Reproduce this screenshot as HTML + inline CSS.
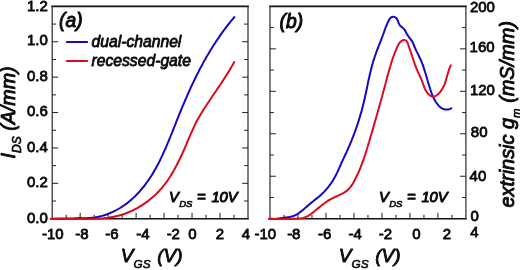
<!DOCTYPE html>
<html><head><meta charset="utf-8"><title>Figure</title>
<style>html,body{margin:0;padding:0;background:#fff}svg{display:block}</style>
</head><body>
<svg width="520" height="270" viewBox="0 0 520 270">
<rect width="520" height="270" fill="#fff"/>
<g stroke="#111" stroke-width="1.6" stroke-linecap="square"><line x1="52.2" y1="6.4" x2="248.0" y2="6.4"/><line x1="52.2" y1="218.7" x2="248.0" y2="218.7"/></g>
<g stroke="#303030" stroke-width="1.25" stroke-linecap="square"><line x1="52.2" y1="6.4" x2="52.2" y2="218.7"/><line x1="248.0" y1="6.4" x2="248.0" y2="218.7"/></g>
<g stroke="#111" stroke-width="1.6" stroke-linecap="square"><line x1="270.0" y1="6.4" x2="465.9" y2="6.4"/><line x1="270.0" y1="218.7" x2="465.9" y2="218.7"/></g>
<g stroke="#303030" stroke-width="1.25" stroke-linecap="square"><line x1="270.0" y1="6.4" x2="270.0" y2="218.7"/><line x1="465.9" y1="6.4" x2="465.9" y2="218.7"/></g>
<g stroke="#222" stroke-width="1.0" fill="none">
<line x1="66.19" y1="218.7" x2="66.19" y2="214.80"/>
<line x1="80.17" y1="218.7" x2="80.17" y2="212.80"/>
<line x1="94.16" y1="218.7" x2="94.16" y2="214.80"/>
<line x1="108.14" y1="218.7" x2="108.14" y2="212.80"/>
<line x1="122.13" y1="218.7" x2="122.13" y2="214.80"/>
<line x1="136.11" y1="218.7" x2="136.11" y2="212.80"/>
<line x1="150.10" y1="218.7" x2="150.10" y2="214.80"/>
<line x1="164.09" y1="218.7" x2="164.09" y2="212.80"/>
<line x1="178.07" y1="218.7" x2="178.07" y2="214.80"/>
<line x1="192.06" y1="218.7" x2="192.06" y2="212.80"/>
<line x1="206.04" y1="218.7" x2="206.04" y2="214.80"/>
<line x1="220.03" y1="218.7" x2="220.03" y2="212.80"/>
<line x1="234.01" y1="218.7" x2="234.01" y2="214.80"/>
<line x1="283.99" y1="218.7" x2="283.99" y2="214.80"/>
<line x1="297.99" y1="218.7" x2="297.99" y2="212.80"/>
<line x1="311.98" y1="218.7" x2="311.98" y2="214.80"/>
<line x1="325.97" y1="218.7" x2="325.97" y2="212.80"/>
<line x1="339.96" y1="218.7" x2="339.96" y2="214.80"/>
<line x1="353.96" y1="218.7" x2="353.96" y2="212.80"/>
<line x1="367.95" y1="218.7" x2="367.95" y2="214.80"/>
<line x1="381.94" y1="218.7" x2="381.94" y2="212.80"/>
<line x1="395.94" y1="218.7" x2="395.94" y2="214.80"/>
<line x1="409.93" y1="218.7" x2="409.93" y2="212.80"/>
<line x1="423.92" y1="218.7" x2="423.92" y2="214.80"/>
<line x1="437.91" y1="218.7" x2="437.91" y2="212.80"/>
<line x1="451.91" y1="218.7" x2="451.91" y2="214.80"/>
<line x1="52.2" y1="201.01" x2="56.10" y2="201.01"/>
<line x1="52.2" y1="183.32" x2="58.10" y2="183.32"/>
<line x1="52.2" y1="165.62" x2="56.10" y2="165.62"/>
<line x1="52.2" y1="147.93" x2="58.10" y2="147.93"/>
<line x1="52.2" y1="130.24" x2="56.10" y2="130.24"/>
<line x1="52.2" y1="112.55" x2="58.10" y2="112.55"/>
<line x1="52.2" y1="94.86" x2="56.10" y2="94.86"/>
<line x1="52.2" y1="77.17" x2="58.10" y2="77.17"/>
<line x1="52.2" y1="59.47" x2="56.10" y2="59.47"/>
<line x1="52.2" y1="41.78" x2="58.10" y2="41.78"/>
<line x1="52.2" y1="24.09" x2="56.10" y2="24.09"/>
<line x1="248.0" y1="201.01" x2="244.10" y2="201.01"/>
<line x1="248.0" y1="183.32" x2="242.10" y2="183.32"/>
<line x1="248.0" y1="165.62" x2="244.10" y2="165.62"/>
<line x1="248.0" y1="147.93" x2="242.10" y2="147.93"/>
<line x1="248.0" y1="130.24" x2="244.10" y2="130.24"/>
<line x1="248.0" y1="112.55" x2="242.10" y2="112.55"/>
<line x1="248.0" y1="94.86" x2="244.10" y2="94.86"/>
<line x1="248.0" y1="77.17" x2="242.10" y2="77.17"/>
<line x1="248.0" y1="59.47" x2="244.10" y2="59.47"/>
<line x1="248.0" y1="41.78" x2="242.10" y2="41.78"/>
<line x1="248.0" y1="24.09" x2="244.10" y2="24.09"/>
<line x1="270.0" y1="197.47" x2="273.90" y2="197.47"/>
<line x1="270.0" y1="176.24" x2="275.90" y2="176.24"/>
<line x1="270.0" y1="155.01" x2="273.90" y2="155.01"/>
<line x1="270.0" y1="133.78" x2="275.90" y2="133.78"/>
<line x1="270.0" y1="112.55" x2="273.90" y2="112.55"/>
<line x1="270.0" y1="91.32" x2="275.90" y2="91.32"/>
<line x1="270.0" y1="70.09" x2="273.90" y2="70.09"/>
<line x1="270.0" y1="48.86" x2="275.90" y2="48.86"/>
<line x1="270.0" y1="27.63" x2="273.90" y2="27.63"/>
<line x1="465.9" y1="197.47" x2="462.00" y2="197.47"/>
<line x1="465.9" y1="176.24" x2="460.00" y2="176.24"/>
<line x1="465.9" y1="155.01" x2="462.00" y2="155.01"/>
<line x1="465.9" y1="133.78" x2="460.00" y2="133.78"/>
<line x1="465.9" y1="112.55" x2="462.00" y2="112.55"/>
<line x1="465.9" y1="91.32" x2="460.00" y2="91.32"/>
<line x1="465.9" y1="70.09" x2="462.00" y2="70.09"/>
<line x1="465.9" y1="48.86" x2="460.00" y2="48.86"/>
<line x1="465.9" y1="27.63" x2="462.00" y2="27.63"/>
</g>
<g fill="none" stroke-width="2" stroke-linejoin="round" stroke-linecap="round">
<path d="M52.0,218.7 C55.0,218.7 65.3,218.6 70.0,218.5 C74.7,218.4 77.8,218.1 80.0,218.1 C82.2,218.1 82.0,218.2 83.0,218.2 C84.0,218.3 85.0,218.3 86.0,218.2 C87.0,218.2 88.0,218.2 89.0,218.1 C90.0,218.0 91.0,218.0 92.0,217.8 C93.0,217.7 94.0,217.6 95.0,217.4 C96.0,217.3 96.9,217.1 97.9,216.9 C98.9,216.7 99.9,216.5 100.8,216.2 C101.8,216.0 102.8,215.7 103.7,215.4 C104.7,215.1 105.6,214.8 106.6,214.5 C107.5,214.2 108.5,213.8 109.4,213.4 C110.3,213.0 111.2,212.7 112.2,212.2 C113.1,211.8 114.0,211.4 114.9,210.9 C115.7,210.5 116.6,210.0 117.5,209.5 C118.4,209.0 119.2,208.5 120.1,208.0 C120.9,207.5 121.8,206.9 122.6,206.4 C123.4,205.8 124.3,205.2 125.1,204.7 C125.9,204.1 126.7,203.5 127.5,202.9 C128.3,202.2 129.0,201.6 129.8,201.0 C130.6,200.3 131.3,199.7 132.1,199.0 C132.8,198.3 133.6,197.6 134.3,197.0 C135.0,196.3 135.7,195.6 136.4,194.8 C137.1,194.1 137.8,193.4 138.5,192.7 C139.2,191.9 139.8,191.2 140.5,190.4 C141.1,189.7 141.8,188.9 142.4,188.1 C143.1,187.4 143.7,186.6 144.3,185.8 C144.9,185.0 145.5,184.2 146.1,183.4 C146.7,182.6 147.3,181.8 147.9,181.0 C148.5,180.2 149.0,179.3 149.6,178.5 C150.1,177.7 150.7,176.8 151.2,176.0 C151.8,175.1 152.3,174.3 152.8,173.4 C153.3,172.6 153.8,171.7 154.3,170.9 C154.8,170.0 155.3,169.1 155.8,168.3 C156.3,167.4 156.8,166.5 157.3,165.6 C157.7,164.7 158.2,163.8 158.7,163.0 C159.1,162.1 159.6,161.2 160.0,160.3 C160.4,159.4 160.9,158.5 161.3,157.6 C161.8,156.7 162.2,155.8 162.6,154.9 C163.0,154.0 163.4,153.0 163.8,152.1 C164.3,151.2 164.7,150.3 165.1,149.4 C165.5,148.5 165.9,147.6 166.3,146.6 C166.7,145.7 167.0,144.8 167.4,143.9 C167.8,142.9 168.2,142.0 168.6,141.1 C169.0,140.2 169.4,139.2 169.7,138.3 C170.1,137.4 170.5,136.5 170.9,135.5 C171.2,134.6 171.6,133.7 172.0,132.8 C172.3,131.8 172.7,130.9 173.1,130.0 C173.4,129.0 173.8,128.1 174.2,127.2 C174.6,126.2 174.9,125.3 175.3,124.4 C175.7,123.4 176.0,122.5 176.4,121.6 C176.8,120.7 177.1,119.7 177.5,118.8 C177.9,117.9 178.3,116.9 178.6,116.0 C179.0,115.1 179.4,114.2 179.8,113.2 C180.1,112.3 180.5,111.4 180.9,110.5 C181.3,109.5 181.7,108.6 182.0,107.7 C182.4,106.8 182.8,105.8 183.2,104.9 C183.6,104.0 184.0,103.1 184.4,102.1 C184.8,101.2 185.2,100.3 185.6,99.4 C186.0,98.5 186.4,97.6 186.8,96.6 C187.2,95.7 187.6,94.8 188.0,93.9 C188.4,93.0 188.8,92.1 189.2,91.1 C189.6,90.2 190.0,89.3 190.4,88.4 C190.9,87.5 191.3,86.6 191.7,85.7 C192.1,84.8 192.5,83.9 193.0,83.0 C193.4,82.1 193.8,81.2 194.3,80.3 C194.7,79.4 195.1,78.5 195.6,77.6 C196.0,76.7 196.5,75.8 196.9,74.9 C197.4,74.0 197.8,73.1 198.3,72.2 C198.7,71.3 199.2,70.4 199.6,69.5 C200.1,68.6 200.6,67.8 201.0,66.9 C201.5,66.0 202.0,65.1 202.5,64.2 C202.9,63.3 203.4,62.5 203.9,61.6 C204.4,60.7 204.9,59.8 205.4,59.0 C205.9,58.1 206.3,57.2 206.8,56.4 C207.3,55.5 207.9,54.6 208.4,53.8 C208.9,52.9 209.4,52.0 209.9,51.2 C210.4,50.3 210.9,49.5 211.5,48.6 C212.0,47.8 212.5,46.9 213.1,46.1 C213.6,45.2 214.1,44.4 214.7,43.6 C215.2,42.7 215.8,41.9 216.3,41.1 C216.9,40.2 217.4,39.4 218.0,38.6 C218.6,37.7 219.1,36.9 219.7,36.1 C220.3,35.3 220.9,34.5 221.4,33.6 C222.0,32.8 222.6,32.0 223.2,31.2 C223.8,30.4 224.4,29.6 225.0,28.8 C225.6,28.0 226.2,27.2 226.8,26.4 C227.4,25.6 228.0,24.8 228.7,24.0 C229.3,23.3 229.9,22.5 230.6,21.7 C231.2,20.9 231.8,20.2 232.5,19.4 C233.1,18.6 234.1,17.5 234.4,17.1" stroke="#1408c4"/>
<path d="M50.8,219.0 C57.3,219.0 82.0,219.0 90.0,218.9 C98.0,218.8 96.9,218.6 98.9,218.5 C100.9,218.4 100.9,218.4 102.0,218.4 C103.0,218.3 104.0,218.2 105.0,218.1 C106.0,218.0 107.0,217.9 108.0,217.8 C109.1,217.6 110.1,217.5 111.1,217.3 C112.1,217.1 113.1,216.9 114.1,216.7 C115.1,216.5 116.1,216.3 117.1,216.0 C118.0,215.8 119.0,215.5 120.0,215.2 C121.0,215.0 122.0,214.7 122.9,214.3 C123.9,214.0 124.9,213.7 125.8,213.3 C126.8,213.0 127.7,212.6 128.7,212.2 C129.6,211.8 130.5,211.4 131.5,211.0 C132.4,210.6 133.3,210.1 134.2,209.7 C135.1,209.2 136.0,208.7 136.9,208.3 C137.8,207.8 138.7,207.3 139.6,206.7 C140.5,206.2 141.3,205.7 142.2,205.1 C143.0,204.6 143.9,204.0 144.7,203.4 C145.6,202.8 146.4,202.2 147.2,201.6 C148.0,201.0 148.8,200.4 149.6,199.8 C150.4,199.1 151.2,198.5 152.0,197.8 C152.8,197.1 153.5,196.5 154.3,195.8 C155.0,195.1 155.7,194.4 156.5,193.7 C157.2,192.9 157.9,192.2 158.6,191.5 C159.3,190.7 160.0,190.0 160.7,189.2 C161.4,188.4 162.0,187.7 162.7,186.9 C163.3,186.1 164.0,185.3 164.6,184.5 C165.2,183.7 165.8,182.9 166.4,182.1 C167.0,181.2 167.6,180.4 168.2,179.6 C168.8,178.7 169.3,177.9 169.9,177.0 C170.4,176.1 171.0,175.3 171.5,174.4 C172.0,173.5 172.6,172.7 173.1,171.8 C173.6,170.9 174.1,170.0 174.6,169.1 C175.1,168.2 175.5,167.3 176.0,166.4 C176.5,165.5 177.0,164.6 177.4,163.7 C177.9,162.8 178.4,161.9 178.8,161.0 C179.3,160.1 179.7,159.2 180.1,158.2 C180.6,157.3 181.0,156.4 181.4,155.5 C181.9,154.5 182.3,153.6 182.7,152.7 C183.1,151.7 183.5,150.8 184.0,149.9 C184.4,149.0 184.8,148.0 185.2,147.1 C185.6,146.2 186.0,145.2 186.4,144.3 C186.8,143.3 187.2,142.4 187.6,141.5 C188.0,140.5 188.4,139.6 188.8,138.7 C189.2,137.7 189.6,136.8 190.0,135.9 C190.4,134.9 190.8,134.0 191.2,133.0 C191.7,132.1 192.1,131.2 192.5,130.2 C192.9,129.3 193.3,128.4 193.7,127.5 C194.1,126.5 194.4,125.9 195.0,124.7 C195.6,123.4 196.7,121.2 197.3,120.1 C197.8,119.1 198.0,119.0 198.3,118.4 C198.6,117.8 199.0,117.2 199.3,116.6 C199.7,116.1 200.0,115.5 200.4,114.9 C200.7,114.3 201.1,113.7 201.4,113.2 C201.8,112.6 202.1,112.0 202.5,111.4 C202.8,110.9 203.2,110.3 203.5,109.7 C203.9,109.2 204.3,108.6 204.6,108.0 C205.0,107.5 205.4,106.9 205.7,106.3 C206.1,105.8 206.5,105.2 206.8,104.6 C207.2,104.1 207.6,103.5 207.9,102.9 C208.3,102.4 208.7,101.8 209.1,101.3 C209.4,100.7 209.8,100.1 210.2,99.6 C210.6,99.0 210.9,98.4 211.3,97.9 C211.7,97.3 212.1,96.8 212.4,96.2 C212.8,95.7 213.2,95.1 213.6,94.5 C214.0,94.0 214.3,93.4 214.7,92.9 C215.1,92.3 215.5,91.7 215.9,91.2 C216.2,90.6 216.6,90.1 217.0,89.5 C217.4,88.9 217.7,88.4 218.1,87.8 C218.5,87.3 218.9,86.7 219.2,86.2 C219.6,85.6 220.0,85.0 220.4,84.5 C220.8,83.9 221.1,83.3 221.5,82.8 C221.9,82.2 222.2,81.7 222.6,81.1 C223.0,80.5 223.4,80.0 223.7,79.4 C224.1,78.8 224.5,78.3 224.8,77.7 C225.2,77.1 225.6,76.6 225.9,76.0 C226.3,75.4 226.6,74.9 227.0,74.3 C227.4,73.7 227.7,73.2 228.1,72.6 C228.4,72.0 228.8,71.4 229.1,70.9 C229.5,70.3 229.8,69.7 230.2,69.1 C230.5,68.5 230.9,68.0 231.2,67.4 C231.5,66.8 231.9,66.2 232.2,65.6 C232.6,65.0 232.9,64.5 233.2,63.9 C233.5,63.3 234.0,62.4 234.2,62.1" stroke="#dc0a1e"/>
<path d="M270.0,218.8 C271.2,218.8 274.8,219.0 277.0,218.8 C279.2,218.6 281.8,218.1 283.1,217.9 C284.4,217.7 284.1,217.8 284.6,217.7 C285.1,217.6 285.6,217.6 286.1,217.5 C286.6,217.4 287.1,217.4 287.6,217.3 C288.1,217.2 288.6,217.2 289.1,217.1 C289.5,217.0 290.0,216.9 290.5,216.8 C291.0,216.7 291.5,216.6 292.0,216.4 C292.5,216.3 293.0,216.2 293.4,216.0 C293.9,215.8 294.4,215.6 294.8,215.4 C295.3,215.2 295.7,215.0 296.2,214.8 C296.6,214.5 297.0,214.3 297.5,214.0 C297.9,213.8 298.3,213.5 298.7,213.2 C299.1,212.9 299.5,212.6 299.9,212.3 C300.3,212.0 300.7,211.7 301.1,211.4 C301.5,211.1 301.9,210.8 302.3,210.4 C302.7,210.1 303.1,209.8 303.5,209.5 C303.8,209.2 304.2,208.8 304.6,208.5 C305.0,208.2 305.4,207.9 305.7,207.5 C306.1,207.2 306.5,206.9 306.9,206.5 C307.2,206.2 307.6,205.9 308.0,205.6 C308.4,205.2 308.8,204.9 309.1,204.6 C309.5,204.2 309.9,203.9 310.3,203.6 C310.7,203.3 311.1,203.0 311.4,202.6 C311.8,202.3 312.2,202.0 312.6,201.7 C313.0,201.4 313.4,201.1 313.8,200.8 C314.2,200.5 314.6,200.2 315.0,199.8 C315.4,199.5 315.8,199.2 316.2,198.9 C316.6,198.6 317.0,198.3 317.3,198.0 C317.7,197.7 318.1,197.4 318.5,197.0 C318.9,196.7 319.3,196.4 319.6,196.1 C320.0,195.7 320.4,195.4 320.8,195.1 C321.1,194.7 321.5,194.4 321.9,194.0 C322.2,193.7 322.6,193.3 322.9,193.0 C323.3,192.6 323.6,192.3 324.0,191.9 C324.3,191.5 324.7,191.2 325.0,190.8 C325.4,190.4 325.7,190.1 326.0,189.7 C326.4,189.3 326.7,188.9 327.0,188.6 C327.3,188.2 327.7,187.8 328.0,187.4 C328.3,187.0 328.6,186.6 328.9,186.2 C329.2,185.8 329.5,185.4 329.8,185.0 C330.1,184.6 330.4,184.2 330.7,183.8 C331.0,183.4 331.3,183.0 331.5,182.6 C331.8,182.1 332.1,181.7 332.4,181.3 C332.6,180.9 332.9,180.5 333.2,180.0 C333.4,179.6 333.7,179.2 333.9,178.7 C334.2,178.3 334.4,177.9 334.7,177.4 C334.9,177.0 335.1,176.5 335.4,176.1 C335.6,175.7 335.8,175.2 336.1,174.8 C336.3,174.3 336.5,173.9 336.7,173.4 C336.9,173.0 337.2,172.5 337.4,172.1 C337.6,171.6 337.8,171.2 338.0,170.7 C338.2,170.2 338.4,169.8 338.6,169.3 C338.9,168.9 339.1,168.4 339.3,168.0 C339.5,167.5 339.7,167.1 339.9,166.6 C340.1,166.1 340.3,165.7 340.5,165.2 C340.7,164.8 340.9,164.3 341.1,163.8 C341.3,163.4 341.5,162.9 341.7,162.5 C341.9,162.0 342.1,161.6 342.3,161.1 C342.5,160.7 342.8,160.2 343.0,159.7 C343.2,159.3 343.4,158.8 343.6,158.4 C343.8,157.9 344.0,157.5 344.2,157.0 C344.4,156.6 344.7,156.1 344.9,155.7 C345.1,155.2 345.3,154.7 345.5,154.3 C345.7,153.8 345.9,153.4 346.2,152.9 C346.4,152.5 346.6,152.0 346.8,151.6 C347.0,151.1 347.2,150.7 347.4,150.2 C347.6,149.7 347.8,149.3 348.0,148.8 C348.2,148.4 348.4,147.9 348.6,147.5 C348.8,147.0 349.0,146.5 349.2,146.1 C349.4,145.6 349.6,145.2 349.8,144.7 C350.0,144.2 350.2,143.8 350.4,143.3 C350.6,142.9 350.8,142.4 351.0,141.9 C351.2,141.5 351.4,141.0 351.6,140.5 C351.8,140.1 351.9,139.6 352.1,139.1 C352.3,138.7 352.5,138.2 352.7,137.7 C352.9,137.3 353.0,136.8 353.2,136.3 C353.4,135.9 353.6,135.4 353.8,134.9 C353.9,134.5 354.1,134.0 354.3,133.5 C354.5,133.1 354.6,132.6 354.8,132.1 C355.0,131.7 355.2,131.2 355.3,130.7 C355.5,130.2 355.7,129.8 355.8,129.3 C356.0,128.8 356.2,128.4 356.3,127.9 C356.5,127.4 356.7,126.9 356.8,126.5 C357.0,126.0 357.1,125.5 357.3,125.0 C357.5,124.6 357.6,124.1 357.8,123.6 C357.9,123.1 358.1,122.7 358.2,122.2 C358.4,121.7 358.5,121.2 358.7,120.7 C358.8,120.3 359.0,119.8 359.1,119.3 C359.3,118.8 359.4,118.3 359.6,117.9 C359.7,117.4 359.9,116.9 360.0,116.4 C360.1,116.0 360.3,115.5 360.4,115.0 C360.6,114.5 360.7,114.0 360.8,113.5 C361.0,113.1 361.1,112.6 361.3,112.1 C361.4,111.6 361.5,111.1 361.7,110.6 C361.8,110.2 361.9,109.7 362.0,109.2 C362.2,108.7 362.3,108.2 362.4,107.7 C362.6,107.3 362.7,106.8 362.8,106.3 C362.9,105.8 363.1,105.3 363.2,104.8 C363.3,104.3 363.4,103.9 363.5,103.4 C363.7,102.9 363.8,102.4 363.9,101.9 C364.0,101.4 364.1,100.9 364.2,100.4 C364.3,100.0 364.5,99.5 364.6,99.0 C364.7,98.5 364.8,98.0 364.9,97.5 C365.0,97.0 365.1,96.5 365.2,96.1 C365.3,95.6 365.4,95.1 365.5,94.6 C365.7,94.1 365.8,93.6 365.9,93.1 C366.0,92.6 366.1,92.1 366.2,91.6 C366.3,91.2 366.4,90.7 366.5,90.2 C366.6,89.7 366.7,89.2 366.8,88.7 C366.9,88.2 367.0,87.7 367.1,87.2 C367.2,86.7 367.3,86.2 367.4,85.8 C367.5,85.3 367.6,84.8 367.7,84.3 C367.8,83.8 367.9,83.3 368.0,82.8 C368.1,82.3 368.2,81.8 368.3,81.3 C368.4,80.9 368.5,80.4 368.6,79.9 C368.7,79.4 368.9,78.9 369.0,78.4 C369.1,77.9 369.2,77.4 369.3,76.9 C369.4,76.4 369.5,76.0 369.6,75.5 C369.7,75.0 369.8,74.5 369.9,74.0 C370.1,73.5 370.2,73.0 370.3,72.5 C370.4,72.1 370.5,71.6 370.6,71.1 C370.8,70.6 370.9,70.1 371.0,69.6 C371.1,69.1 371.2,68.6 371.4,68.2 C371.5,67.7 371.6,67.2 371.7,66.7 C371.9,66.2 372.0,65.7 372.1,65.3 C372.3,64.8 372.4,64.3 372.5,63.8 C372.7,63.3 372.8,62.8 373.0,62.4 C373.1,61.9 373.2,61.4 373.4,60.9 C373.5,60.4 373.7,60.0 373.8,59.5 C374.0,59.0 374.1,58.5 374.3,58.1 C374.5,57.6 374.6,57.1 374.8,56.6 C374.9,56.2 375.1,55.7 375.3,55.2 C375.4,54.7 375.6,54.3 375.8,53.8 C375.9,53.3 376.1,52.9 376.3,52.4 C376.5,51.9 376.6,51.4 376.8,51.0 C377.0,50.5 377.2,50.0 377.3,49.6 C377.5,49.1 377.7,48.6 377.9,48.2 C378.1,47.7 378.2,47.2 378.4,46.8 C378.6,46.3 378.8,45.8 379.0,45.4 C379.2,44.9 379.3,44.4 379.5,44.0 C379.7,43.5 379.9,43.0 380.1,42.6 C380.2,42.1 380.4,41.6 380.6,41.2 C380.8,40.7 381.0,40.2 381.2,39.8 C381.3,39.3 381.5,38.8 381.7,38.4 C381.9,37.9 382.1,37.4 382.2,37.0 C382.4,36.5 382.6,36.0 382.8,35.5 C382.9,35.1 383.1,34.6 383.3,34.1 C383.4,33.7 383.6,33.2 383.8,32.7 C384.0,32.3 384.1,31.8 384.3,31.3 C384.5,30.8 384.6,30.4 384.8,29.9 C385.0,29.4 385.1,29.0 385.3,28.5 C385.5,28.0 385.7,27.5 385.8,27.1 C386.0,26.6 386.2,26.1 386.4,25.7 C386.6,25.2 386.8,24.8 387.0,24.3 C387.2,23.8 387.4,23.4 387.6,22.9 C387.8,22.5 388.0,22.0 388.2,21.6 C388.5,21.1 388.7,20.7 388.9,20.2 C389.2,19.8 389.4,19.3 389.7,18.9 C390.0,18.5 390.3,18.1 390.7,17.8 C391.0,17.5 391.5,17.1 391.9,17.0 C392.4,16.8 392.9,16.7 393.4,16.7 C393.9,16.7 394.4,16.9 394.9,17.1 C395.3,17.2 395.7,17.6 396.1,17.9 C396.5,18.2 396.8,18.6 397.0,19.1 C397.3,19.5 397.5,19.9 397.7,20.4 C397.9,20.9 398.0,21.4 398.2,21.8 C398.4,22.3 398.5,22.8 398.7,23.2 C398.9,23.7 399.1,24.2 399.4,24.6 C399.6,25.0 399.9,25.4 400.3,25.8 C400.6,26.1 401.0,26.4 401.4,26.8 C401.8,27.1 402.2,27.3 402.6,27.7 C403.0,28.0 403.4,28.3 403.7,28.7 C404.1,29.0 404.4,29.4 404.7,29.8 C404.9,30.3 405.2,30.7 405.4,31.1 C405.7,31.6 405.9,32.0 406.1,32.5 C406.3,32.9 406.6,33.4 406.8,33.8 C407.0,34.3 407.3,34.7 407.5,35.1 C407.8,35.6 408.1,36.0 408.4,36.4 C408.6,36.8 409.0,37.2 409.3,37.6 C409.6,38.0 409.9,38.4 410.2,38.7 C410.5,39.1 410.8,39.5 411.1,39.9 C411.4,40.3 411.7,40.7 412.0,41.2 C412.3,41.6 412.5,42.0 412.7,42.5 C412.9,42.9 413.1,43.4 413.3,43.8 C413.5,44.3 413.7,44.8 413.9,45.2 C414.1,45.7 414.3,46.2 414.5,46.6 C414.7,47.1 414.9,47.6 415.1,48.0 C415.3,48.5 415.5,48.9 415.7,49.4 C415.9,49.8 416.1,50.3 416.3,50.7 C416.6,51.2 416.8,51.6 417.0,52.1 C417.2,52.5 417.4,53.0 417.7,53.4 C417.9,53.9 418.1,54.3 418.3,54.8 C418.5,55.2 418.8,55.7 419.0,56.1 C419.2,56.6 419.4,57.0 419.6,57.5 C419.8,57.9 420.1,58.4 420.3,58.9 C420.5,59.3 420.7,59.8 420.9,60.2 C421.1,60.7 421.3,61.2 421.5,61.6 C421.6,62.1 421.8,62.5 422.0,63.0 C422.2,63.5 422.4,63.9 422.5,64.4 C422.7,64.9 422.9,65.4 423.1,65.8 C423.2,66.3 423.4,66.8 423.6,67.3 C423.7,67.7 423.9,68.2 424.0,68.7 C424.2,69.2 424.3,69.6 424.5,70.1 C424.6,70.6 424.8,71.1 424.9,71.5 C425.1,72.0 425.2,72.5 425.4,73.0 C425.5,73.5 425.7,73.9 425.8,74.4 C426.0,74.9 426.1,75.4 426.2,75.9 C426.4,76.3 426.5,76.8 426.7,77.3 C426.8,77.8 426.9,78.3 427.1,78.7 C427.2,79.2 427.4,79.7 427.5,80.2 C427.6,80.7 427.8,81.2 427.9,81.6 C428.1,82.1 428.2,82.6 428.3,83.1 C428.5,83.6 428.6,84.0 428.8,84.5 C428.9,85.0 429.1,85.5 429.2,86.0 C429.4,86.4 429.5,86.9 429.7,87.4 C429.8,87.9 430.0,88.3 430.1,88.8 C430.3,89.3 430.4,89.8 430.6,90.2 C430.7,90.7 430.9,91.2 431.1,91.7 C431.2,92.1 431.4,92.6 431.6,93.1 C431.8,93.5 431.9,94.0 432.1,94.5 C432.3,94.9 432.5,95.4 432.7,95.9 C432.9,96.3 433.1,96.8 433.3,97.2 C433.5,97.7 433.7,98.1 434.0,98.6 C434.2,99.0 434.4,99.5 434.7,99.9 C434.9,100.4 435.2,100.8 435.4,101.2 C435.7,101.7 435.9,102.1 436.2,102.5 C436.5,102.9 436.8,103.3 437.1,103.7 C437.4,104.2 437.7,104.6 438.0,104.9 C438.3,105.3 438.6,105.7 439.0,106.1 C439.3,106.4 439.7,106.8 440.1,107.1 C440.5,107.4 440.9,107.7 441.3,108.0 C441.7,108.2 442.2,108.5 442.6,108.7 C443.1,108.9 443.6,109.0 444.0,109.2 C444.5,109.3 445.0,109.4 445.5,109.5 C446.0,109.5 446.5,109.6 447.0,109.5 C447.5,109.5 448.0,109.5 448.5,109.4 C449.0,109.3 449.5,109.1 449.9,109.0 C450.4,108.8 451.1,108.4 451.3,108.3" stroke="#1408c4"/>
<path d="M268.8,219.0 C272.3,219.0 285.1,219.0 290.0,218.9 C294.9,218.8 296.8,218.7 298.5,218.6 C300.2,218.5 299.5,218.6 300.0,218.6 C300.5,218.5 301.0,218.5 301.5,218.4 C302.0,218.3 302.5,218.2 303.0,218.1 C303.5,218.0 303.9,217.8 304.4,217.6 C304.9,217.5 305.3,217.3 305.8,217.1 C306.3,216.9 306.7,216.6 307.1,216.4 C307.6,216.2 308.0,215.9 308.5,215.7 C308.9,215.4 309.3,215.1 309.7,214.8 C310.1,214.6 310.5,214.3 311.0,214.0 C311.4,213.7 311.8,213.4 312.2,213.1 C312.6,212.8 313.0,212.5 313.3,212.2 C313.7,211.9 314.1,211.5 314.5,211.2 C314.9,210.9 315.3,210.6 315.7,210.3 C316.1,210.0 316.5,209.6 316.8,209.3 C317.2,209.0 317.6,208.7 318.0,208.4 C318.4,208.0 318.8,207.7 319.2,207.4 C319.6,207.1 319.9,206.8 320.3,206.5 C320.7,206.1 321.1,205.8 321.5,205.5 C321.9,205.2 322.3,204.9 322.7,204.6 C323.1,204.3 323.5,204.0 323.9,203.7 C324.3,203.4 324.7,203.1 325.1,202.8 C325.5,202.5 325.9,202.2 326.3,201.9 C326.7,201.6 327.2,201.4 327.6,201.1 C328.0,200.8 328.4,200.5 328.9,200.3 C329.3,200.0 329.7,199.8 330.1,199.5 C330.6,199.3 331.0,199.0 331.5,198.8 C331.9,198.6 332.4,198.3 332.8,198.1 C333.3,197.9 333.7,197.7 334.2,197.5 C334.6,197.2 335.1,197.0 335.5,196.8 C336.0,196.6 336.4,196.4 336.9,196.2 C337.4,196.0 337.8,195.8 338.3,195.6 C338.7,195.4 339.2,195.2 339.6,194.9 C340.1,194.7 340.5,194.5 341.0,194.3 C341.4,194.1 341.9,193.8 342.3,193.6 C342.8,193.4 343.2,193.1 343.6,192.9 C344.1,192.6 344.5,192.4 344.9,192.1 C345.3,191.8 345.8,191.5 346.2,191.2 C346.6,190.9 347.0,190.6 347.3,190.3 C347.7,190.0 348.1,189.6 348.4,189.3 C348.8,188.9 349.1,188.6 349.5,188.2 C349.8,187.8 350.1,187.4 350.4,187.0 C350.7,186.6 351.0,186.2 351.3,185.8 C351.6,185.4 351.9,185.0 352.2,184.6 C352.4,184.2 352.7,183.7 353.0,183.3 C353.2,182.9 353.5,182.4 353.7,182.0 C354.0,181.6 354.2,181.1 354.4,180.7 C354.7,180.2 354.9,179.8 355.1,179.3 C355.4,178.9 355.6,178.4 355.8,178.0 C356.0,177.5 356.3,177.1 356.5,176.6 C356.7,176.2 356.9,175.7 357.1,175.3 C357.3,174.8 357.6,174.4 357.8,173.9 C358.0,173.5 358.2,173.0 358.4,172.6 C358.6,172.1 358.8,171.6 359.0,171.2 C359.2,170.7 359.4,170.3 359.6,169.8 C359.8,169.3 360.0,168.9 360.2,168.4 C360.3,167.9 360.5,167.5 360.7,167.0 C360.9,166.5 361.1,166.1 361.3,165.6 C361.4,165.1 361.6,164.7 361.8,164.2 C362.0,163.7 362.2,163.3 362.3,162.8 C362.5,162.3 362.7,161.9 362.8,161.4 C363.0,160.9 363.2,160.4 363.4,160.0 C363.5,159.5 363.7,159.0 363.8,158.5 C364.0,158.1 364.2,157.6 364.3,157.1 C364.5,156.6 364.7,156.2 364.8,155.7 C365.0,155.2 365.1,154.7 365.3,154.3 C365.4,153.8 365.6,153.3 365.7,152.8 C365.9,152.4 366.1,151.9 366.2,151.4 C366.4,150.9 366.5,150.4 366.7,150.0 C366.8,149.5 366.9,149.0 367.1,148.5 C367.2,148.0 367.4,147.6 367.5,147.1 C367.7,146.6 367.8,146.1 368.0,145.6 C368.1,145.2 368.3,144.7 368.4,144.2 C368.5,143.7 368.7,143.2 368.8,142.8 C369.0,142.3 369.1,141.8 369.3,141.3 C369.4,140.8 369.5,140.4 369.7,139.9 C369.8,139.4 370.0,138.9 370.1,138.4 C370.2,138.0 370.4,137.5 370.5,137.0 C370.7,136.5 370.8,136.0 370.9,135.5 C371.1,135.1 371.2,134.6 371.4,134.1 C371.5,133.6 371.6,133.1 371.8,132.7 C371.9,132.2 372.1,131.7 372.2,131.2 C372.3,130.7 372.5,130.2 372.6,129.8 C372.8,129.3 372.9,128.8 373.0,128.3 C373.2,127.8 373.3,127.4 373.5,126.9 C373.6,126.4 373.7,125.9 373.9,125.4 C374.0,125.0 374.2,124.5 374.3,124.0 C374.4,123.5 374.6,123.0 374.7,122.5 C374.9,122.1 375.0,121.6 375.1,121.1 C375.3,120.6 375.4,120.1 375.5,119.7 C375.7,119.2 375.8,118.7 376.0,118.2 C376.1,117.7 376.2,117.2 376.4,116.8 C376.5,116.3 376.6,115.8 376.8,115.3 C376.9,114.8 377.1,114.3 377.2,113.9 C377.3,113.4 377.5,112.9 377.6,112.4 C377.7,111.9 377.9,111.5 378.0,111.0 C378.2,110.5 378.3,110.0 378.4,109.5 C378.6,109.0 378.7,108.6 378.8,108.1 C379.0,107.6 379.1,107.1 379.2,106.6 C379.4,106.1 379.5,105.7 379.7,105.2 C379.8,104.7 379.9,104.2 380.1,103.7 C380.2,103.2 380.3,102.8 380.5,102.3 C380.6,101.8 380.7,101.3 380.9,100.8 C381.0,100.3 381.1,99.9 381.3,99.4 C381.4,98.9 381.5,98.4 381.7,97.9 C381.8,97.4 381.9,97.0 382.1,96.5 C382.2,96.0 382.3,95.5 382.5,95.0 C382.6,94.5 382.7,94.1 382.9,93.6 C383.0,93.1 383.1,92.6 383.2,92.1 C383.4,91.6 383.5,91.2 383.6,90.7 C383.8,90.2 383.9,89.7 384.0,89.2 C384.2,88.7 384.3,88.3 384.4,87.8 C384.5,87.3 384.7,86.8 384.8,86.3 C384.9,85.8 385.1,85.3 385.2,84.9 C385.3,84.4 385.4,83.9 385.6,83.4 C385.7,82.9 385.8,82.4 386.0,82.0 C386.1,81.5 386.2,81.0 386.3,80.5 C386.5,80.0 386.6,79.5 386.7,79.0 C386.9,78.6 387.0,78.1 387.1,77.6 C387.2,77.1 387.4,76.6 387.5,76.1 C387.6,75.7 387.8,75.2 387.9,74.7 C388.0,74.2 388.2,73.7 388.3,73.2 C388.4,72.7 388.6,72.3 388.7,71.8 C388.8,71.3 389.0,70.8 389.1,70.3 C389.2,69.9 389.4,69.4 389.5,68.9 C389.6,68.4 389.8,67.9 389.9,67.4 C390.1,67.0 390.2,66.5 390.4,66.0 C390.5,65.5 390.6,65.0 390.8,64.6 C390.9,64.1 391.1,63.6 391.2,63.1 C391.4,62.6 391.5,62.2 391.7,61.7 C391.9,61.2 392.0,60.7 392.2,60.3 C392.3,59.8 392.5,59.3 392.6,58.8 C392.8,58.4 393.0,57.9 393.1,57.4 C393.3,56.9 393.5,56.5 393.6,56.0 C393.8,55.5 394.0,55.1 394.2,54.6 C394.3,54.1 394.5,53.6 394.7,53.2 C394.9,52.7 395.1,52.2 395.2,51.8 C395.4,51.3 395.6,50.8 395.8,50.4 C396.0,49.9 396.2,49.5 396.4,49.0 C396.6,48.5 396.8,48.1 397.0,47.6 C397.2,47.1 397.4,46.7 397.6,46.2 C397.8,45.8 398.0,45.3 398.3,44.9 C398.5,44.5 398.8,44.0 399.1,43.6 C399.3,43.2 399.6,42.8 400.0,42.4 C400.3,42.0 400.6,41.7 401.0,41.4 C401.4,41.0 401.8,40.7 402.3,40.5 C402.7,40.3 403.2,40.1 403.7,40.0 C404.2,39.9 404.7,39.9 405.2,40.1 C405.6,40.2 406.1,40.6 406.4,40.9 C406.8,41.3 407.0,41.7 407.2,42.2 C407.5,42.6 407.6,43.1 407.8,43.5 C408.0,44.0 408.2,44.5 408.3,45.0 C408.5,45.4 408.7,45.9 408.8,46.4 C409.0,46.9 409.2,47.3 409.3,47.8 C409.5,48.3 409.7,48.8 409.8,49.2 C410.0,49.7 410.1,50.2 410.3,50.7 C410.5,51.1 410.6,51.6 410.8,52.1 C410.9,52.6 411.1,53.0 411.3,53.5 C411.4,54.0 411.6,54.5 411.7,54.9 C411.9,55.4 412.1,55.9 412.2,56.4 C412.4,56.8 412.5,57.3 412.7,57.8 C412.8,58.3 413.0,58.7 413.2,59.2 C413.3,59.7 413.5,60.2 413.6,60.6 C413.8,61.1 414.0,61.6 414.1,62.1 C414.3,62.5 414.4,63.0 414.6,63.5 C414.8,64.0 414.9,64.4 415.1,64.9 C415.3,65.4 415.4,65.8 415.6,66.3 C415.8,66.8 416.0,67.3 416.2,67.7 C416.3,68.2 416.5,68.7 416.7,69.1 C416.9,69.6 417.1,70.0 417.3,70.5 C417.5,71.0 417.7,71.4 417.9,71.9 C418.1,72.3 418.4,72.8 418.6,73.2 C418.8,73.7 419.0,74.1 419.2,74.6 C419.4,75.0 419.7,75.5 419.9,75.9 C420.1,76.4 420.3,76.9 420.5,77.3 C420.7,77.8 420.9,78.2 421.1,78.7 C421.3,79.1 421.5,79.6 421.7,80.1 C421.9,80.5 422.0,81.0 422.2,81.5 C422.4,82.0 422.5,82.4 422.7,82.9 C422.9,83.4 423.0,83.9 423.2,84.3 C423.4,84.8 423.5,85.3 423.7,85.8 C423.9,86.2 424.0,86.7 424.2,87.2 C424.4,87.6 424.6,88.1 424.8,88.6 C425.0,89.0 425.2,89.5 425.4,89.9 C425.7,90.4 425.9,90.8 426.2,91.2 C426.4,91.6 426.7,92.1 427.0,92.5 C427.3,92.9 427.6,93.3 428.0,93.6 C428.3,94.0 428.6,94.4 429.0,94.7 C429.4,95.0 429.8,95.4 430.2,95.6 C430.6,95.9 431.1,96.2 431.5,96.3 C432.0,96.5 432.5,96.6 433.0,96.6 C433.5,96.6 434.0,96.5 434.5,96.4 C435.0,96.3 435.4,96.0 435.9,95.8 C436.3,95.6 436.7,95.3 437.1,95.0 C437.5,94.7 437.9,94.3 438.3,94.0 C438.6,93.6 439.0,93.3 439.3,92.9 C439.6,92.5 440.0,92.2 440.3,91.8 C440.6,91.4 440.9,91.0 441.2,90.6 C441.5,90.2 441.8,89.8 442.1,89.3 C442.3,88.9 442.6,88.5 442.8,88.0 C443.1,87.6 443.3,87.2 443.5,86.7 C443.8,86.3 444.0,85.8 444.2,85.4 C444.4,84.9 444.6,84.4 444.7,84.0 C444.9,83.5 445.1,83.0 445.2,82.5 C445.4,82.1 445.5,81.6 445.7,81.1 C445.8,80.6 446.0,80.1 446.1,79.7 C446.3,79.2 446.4,78.7 446.5,78.2 C446.7,77.7 446.8,77.2 446.9,76.8 C447.0,76.3 447.2,75.8 447.3,75.3 C447.4,74.8 447.6,74.3 447.7,73.9 C447.8,73.4 448.0,72.9 448.1,72.4 C448.3,71.9 448.4,71.4 448.6,71.0 C448.7,70.5 448.9,70.0 449.0,69.5 C449.2,69.1 449.4,68.6 449.6,68.1 C449.7,67.7 449.9,67.2 450.1,66.8 C450.3,66.3 450.7,65.6 450.8,65.4" stroke="#dc0a1e"/>
<line x1="66.9" y1="42.1" x2="87.1" y2="42.1" stroke="#1408c4" stroke-width="2"/>
<line x1="66.9" y1="60.9" x2="87.1" y2="60.9" stroke="#dc0a1e" stroke-width="2"/>
</g>
<g font-family="'Liberation Sans', Arial, sans-serif" fill="#0a0a0a" stroke="#0a0a0a" stroke-width="0.8" stroke-linejoin="round">
<text x="47.9" y="223.2" font-size="15.0" text-anchor="end">0.0</text>
<text x="47.9" y="187.2" font-size="15.0" text-anchor="end">0.2</text>
<text x="47.9" y="152.2" font-size="15.0" text-anchor="end">0.4</text>
<text x="47.9" y="116.4" font-size="15.0" text-anchor="end">0.6</text>
<text x="47.9" y="80.7" font-size="15.0" text-anchor="end">0.8</text>
<text x="47.9" y="45.4" font-size="15.0" text-anchor="end">1.0</text>
<text x="47.9" y="10.8" font-size="15.0" text-anchor="end">1.2</text>
<text x="470.6" y="221.0" font-size="15.0">0</text>
<text x="469.6" y="180.7" font-size="15.0">40</text>
<text x="470.8" y="136.8" font-size="15.0">80</text>
<text x="469.9" y="95.0" font-size="15.0">120</text>
<text x="469.6" y="51.8" font-size="15.0">160</text>
<text x="469.9" y="12.0" font-size="15.0">200</text>
<text x="52.8" y="238.7" font-size="15.0" text-anchor="middle">-10</text>
<text x="81.85" y="238.7" font-size="15.0" text-anchor="middle">-8</text>
<text x="112.0" y="238.7" font-size="15.0" text-anchor="middle">-6</text>
<text x="142.9" y="238.7" font-size="15.0" text-anchor="middle">-4</text>
<text x="173.3" y="238.7" font-size="15.0" text-anchor="middle">-2</text>
<text x="192.3" y="238.7" font-size="15.0" text-anchor="middle">0</text>
<text x="219.8" y="238.7" font-size="15.0" text-anchor="middle">2</text>
<text x="245.9" y="238.7" font-size="15.0" text-anchor="middle">4</text>
<text x="265.3" y="238.7" font-size="15.0" text-anchor="middle">-10</text>
<text x="293.8" y="238.7" font-size="15.0" text-anchor="middle">-8</text>
<text x="324.7" y="238.7" font-size="15.0" text-anchor="middle">-6</text>
<text x="355.2" y="238.7" font-size="15.0" text-anchor="middle">-4</text>
<text x="385.5" y="238.7" font-size="15.0" text-anchor="middle">-2</text>
<text x="416.3" y="238.7" font-size="15.0" text-anchor="middle">0</text>
<text x="447.0" y="238.7" font-size="15.0" text-anchor="middle">2</text>
<text x="474.4" y="237.4" font-size="15.0" text-anchor="middle">4</text>
<g font-style="italic">
<text x="59.1" y="27.0" stroke-width="1.0" font-size="19.3">(a)</text>
<text x="279.6" y="28.0" stroke-width="1.0" font-size="19.3">(b)</text>
<text x="91.5" y="46.8" font-size="15.7">dual-channel</text>
<text x="91.5" y="65.6" font-size="15.7">recessed-gate</text>
<text x="120.7" y="261.6" stroke-width="0.9" font-size="19">V<tspan font-size="11.8" dy="6.7" dx="0.2" stroke-width="0.6">GS</tspan><tspan dy="-6.7" dx="1.3"> (V)</tspan></text>
<text x="338.7" y="261.6" stroke-width="0.9" font-size="19">V<tspan font-size="11.8" dy="6.7" dx="0.2" stroke-width="0.6">GS</tspan><tspan dy="-6.7" dx="1.3"> (V)</tspan></text>
<text y="201.7" font-size="14.8" stroke-width="1.0"><tspan x="168.9">V</tspan><tspan x="179.2" font-size="9.6" dy="5.5" stroke-width="0.6">DS</tspan><tspan x="197.1" dy="-5.5">=</tspan><tspan x="211.4">10V</tspan></text>
<text y="201.7" font-size="14.8" stroke-width="1.0"><tspan x="378.9">V</tspan><tspan x="389.2" font-size="9.6" dy="5.5" stroke-width="0.6">DS</tspan><tspan x="407.1" dy="-5.5">=</tspan><tspan x="421.4">10V</tspan></text>
<text transform="translate(14.6,158.5) rotate(-90)" stroke-width="0.9" font-size="19.7">I<tspan font-size="12" dy="6.3" stroke-width="0.7">DS</tspan><tspan dy="-6"> (A/mm)</tspan></text>
<text transform="translate(513.6,207.5) rotate(-90)" stroke-width="0.9" font-size="19.9">extrinsic g<tspan font-size="11.5" dy="6" stroke-width="0.6">m</tspan><tspan dy="-6"> (mS/mm)</tspan></text>
</g>
</g>
</svg>
</body></html>
